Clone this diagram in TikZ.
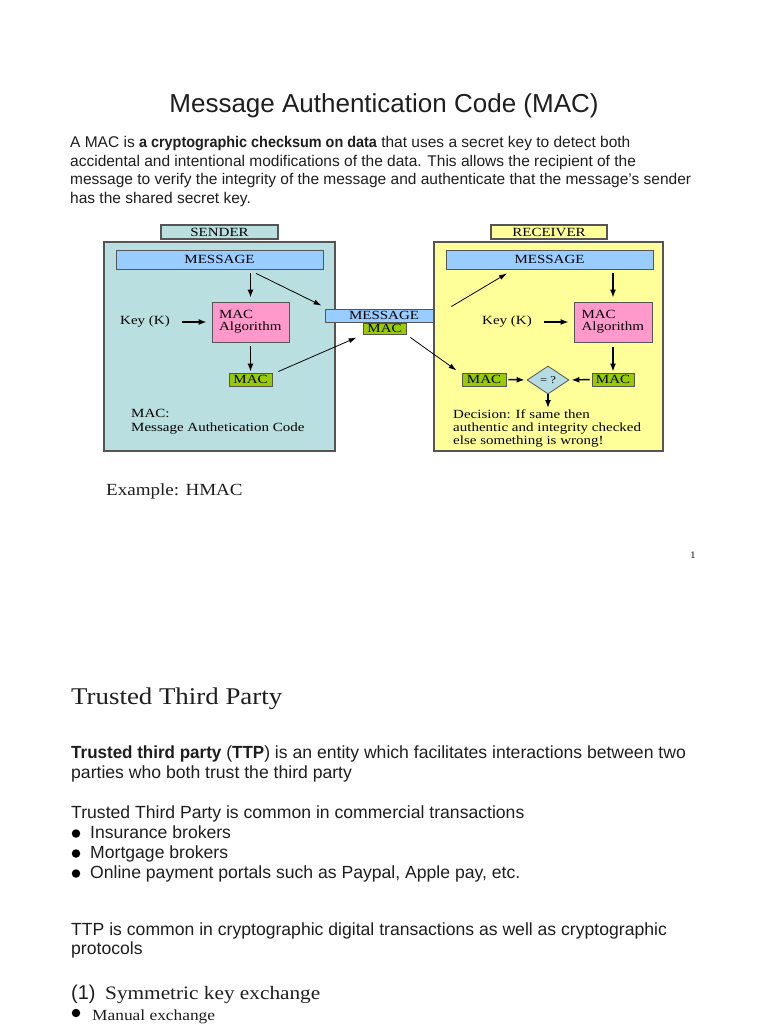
\documentclass[tikz,border=0pt]{standalone}
\usepackage{fontspec}
\setmainfont{Liberation Sans}
\newfontfamily\dgf[FakeStretch=1.2]{Liberation Serif}
\newfontfamily\srf[FakeStretch=1.12]{Liberation Serif}
\newfontfamily\bnar[FakeStretch=0.93]{Liberation Sans}
\newfontfamily\bnarl[FakeStretch=0.966]{Liberation Sans}
\usetikzlibrary{shapes.geometric,arrows.meta,calc}
\definecolor{sendbg}{RGB}{186,223,224}
\definecolor{recvbg}{RGB}{255,255,153}
\definecolor{msgblue}{RGB}{153,204,255}
\definecolor{algpink}{RGB}{255,153,204}
\definecolor{macgreen}{RGB}{153,204,0}
\definecolor{cmpblue}{RGB}{180,220,226}
\definecolor{edge}{RGB}{85,85,85}
\definecolor{ink}{RGB}{30,30,30}
\begin{document}
\begin{tikzpicture}[x=1pt,y=-1pt,
  dtext/.style={inner sep=0pt, font=\dgf\fontsize{12.5}{12.5}\selectfont},
  panel/.style={draw=edge, line width=1.1pt, inner sep=0pt},
  labbox/.style={draw=edge, line width=1.1pt, inner sep=0pt, minimum height=14pt, dtext},
  msgbar/.style={draw=edge, line width=0.8pt, fill=msgblue, inner sep=0pt, dtext},
  algbox/.style={draw=edge, line width=0.8pt, fill=algpink, inner sep=0pt, minimum width=77pt, minimum height=40pt, text width=63pt, align=left, font=\dgf\fontsize{12.5}{12.5}\selectfont},
  macbox/.style={draw=edge, line width=0.8pt, fill=macgreen, inner sep=0pt, minimum width=43pt, minimum height=13pt, dtext},
  arrV/.style={-{Latex[length=8pt,width=6pt]}, line width=1.4pt, black},
  arrD/.style={-{Latex[length=8pt,width=5pt]}, line width=0.8pt, black},
  ptext/.style={anchor=base west, inner sep=0pt, text=ink, font=\fontsize{15.5}{18}\selectfont},
  ltext/.style={anchor=base west, inner sep=0pt, text=ink, font=\fontsize{17.6}{20}\selectfont},
  bul/.style={circle, fill=black, inner sep=0pt, minimum size=8.5pt}
]
\useasboundingbox (0,0) rectangle (768,1024);
\fill[white] (0,0) rectangle (768,1024);

% ---------- heading and paragraph ----------
\node[anchor=base, inner sep=0pt, text=ink, font=\fontsize{26}{30}\selectfont] (title) at (384,113) {Message Authentication Code (MAC)};
\node[ptext] (p1) at (70,148) {A MAC is {\bnar\bfseries a cryptographic checksum on data} that uses a secret key to detect both};
\node[ptext] (p2) at (70,166.5) {accidental and intentional modifications of the data. This allows the recipient of the};
\node[ptext] (p3) at (70,185) {message to verify the integrity of the message and authenticate that the message's sender};
\node[ptext] (p4) at (70,203.5) {has the shared secret key.};

% ---------- sender side ----------
\node[labbox, fill=sendbg, minimum width=117pt] (slab) at (219.5,232) {SENDER};
\node[panel, fill=sendbg, minimum width=231pt, minimum height=209pt] (spanel) at (219.5,346.5) {};
\node[msgbar, minimum width=207pt, minimum height=19pt] (smsg) at (219.5,259.5) {MESSAGE};
\node[algbox] (salg) at (250.5,322) {MAC\\[-0.5pt]Algorithm};
\node[dtext] (skey) at (145,322) {Key (K)};
\node[macbox] (smac) at (250.5,379.5) {MAC};
\node[dtext, anchor=base west] (snote1) at (131,417) {MAC:};
\node[dtext, anchor=base west] (snote2) at (131,431) {Message Authetication Code};

% ---------- transmitted message ----------
\node[msgbar, minimum width=118pt, minimum height=13pt] (mmsg) at (384,315.5) {MESSAGE};
\node[macbox, minimum height=11pt] (mmac) at (384.5,328.5) {MAC};

% ---------- receiver side ----------
\node[labbox, fill=recvbg, minimum width=116pt] (rlab) at (549,232) {RECEIVER};
\node[panel, fill=recvbg, minimum width=229pt, minimum height=209pt] (rpanel) at (548.5,346.5) {};
\node[msgbar, minimum width=207pt, minimum height=19pt] (rmsg) at (549.5,259.5) {MESSAGE};
\node[algbox, minimum width=78pt] (ralg) at (613,322) {MAC\\[-0.5pt]Algorithm};
\node[dtext] (rkey) at (507,322) {Key (K)};
\node[macbox, minimum width=44pt] (rmac1) at (484,379.5) {MAC};
\node[diamond, draw=edge, line width=0.8pt, fill=cmpblue, inner sep=0pt, minimum width=42pt, minimum height=28pt, font=\dgf\fontsize{10.5}{10.5}\selectfont] (cmp) at (548,380) {= ?};
\node[macbox, minimum width=42pt] (rmac2) at (613,379.5) {MAC};
\node[dtext, anchor=base west] (dec1) at (453,418) {Decision: If same then};
\node[dtext, anchor=base west] (dec2) at (453,431) {authentic and integrity checked};
\node[dtext, anchor=base west] (dec3) at (453,444) {else something is wrong!};
\coordinate (decend) at (548,408);

% ---------- connectors ----------
\draw[arrV, shorten <=4pt, shorten >=4pt] (salg.north |- smsg.south) -- (salg.north);
\draw[arrV, shorten <=12pt, shorten >=5pt] (skey.east) -- (salg.west);
\draw[arrV, shorten <=4pt, shorten >=1pt] (salg.south) -- (smac.north);
\draw[arrD] ($(smsg.south)+(36.5,4)$) -- ($(mmsg.north west)+(-3,-3)$);
\draw[arrD] ($(smac.east)+(6,-8)$) -- ($(mmac.west)+(-6,9)$);
\draw[arrD] ($(mmsg.east)+(8,-9)$) -- ($(rmsg.south)+(-42.5,4)$);
\draw[arrD] ($(mmac.east)+(4,9)$) -- ($(rmac1.west)+(-5,-9)$);
\draw[arrV, shorten <=4pt, shorten >=4pt] (ralg.north |- rmsg.south) -- (ralg.north);
\draw[arrV, shorten <=12pt, shorten >=5pt] (rkey.east) -- (ralg.west);
\draw[arrV, shorten <=5pt, shorten >=1pt] (ralg.south) -- (rmac2.north);
\draw[arrV, shorten <=2pt, shorten >=2pt] (rmac1.east) -- (cmp.west);
\draw[arrV, shorten <=2pt, shorten >=2pt] (rmac2.west) -- (cmp.east);
\draw[arrV] (cmp.south) -- (decend);

% ---------- example and page number ----------
\node[anchor=base west, inner sep=0pt, text=ink, font=\srf\fontsize{17}{20}\selectfont] (example) at (106,495) {Example: HMAC};
\node[anchor=base east, inner sep=0pt, text=ink, font=\srf\fontsize{10}{12}\selectfont] (pageno) at (696,558) {1};

% ---------- trusted third party ----------
\node[anchor=base west, inner sep=0pt, text=ink, font=\srf\fontsize{24}{28}\selectfont] (ttp) at (71,704) {Trusted Third Party};
\node[ltext] (t1) at (71,758) {{\bnarl\bfseries Trusted third party} ({\bnarl\bfseries TTP}) is an entity which facilitates interactions between two};
\node[ltext] (t2) at (71,778) {parties who both trust the third party};
\node[ltext] (t3) at (71,818) {Trusted Third Party is common in commercial transactions};
\node[bul] (b1) at (76,833.5) {};
\node[ltext] (t4) at (90,838) {Insurance brokers};
\node[bul] (b2) at (76,853.5) {};
\node[ltext] (t5) at (90,858) {Mortgage brokers};
\node[bul] (b3) at (76,873.5) {};
\node[ltext] (t6) at (90,878) {Online payment portals such as Paypal, Apple pay, etc.};
\node[ltext] (t7) at (71,935) {TTP is common in cryptographic digital transactions as well as cryptographic};
\node[ltext] (t8) at (71,954) {protocols};
\node[anchor=base west, inner sep=0pt, text=ink, font=\fontsize{20}{24}\selectfont] (num1) at (71,999) {(1)};
\node[anchor=base west, inner sep=0pt, text=ink, font=\srf\fontsize{19}{22}\selectfont] (sym) at (105,999) {Symmetric key exchange};
\node[bul] (b4) at (76,1013) {};
\node[anchor=base west, inner sep=0pt, text=ink, font=\srf\fontsize{15.5}{18}\selectfont] (manual) at (92,1020) {Manual exchange};
\end{tikzpicture}
\end{document}
